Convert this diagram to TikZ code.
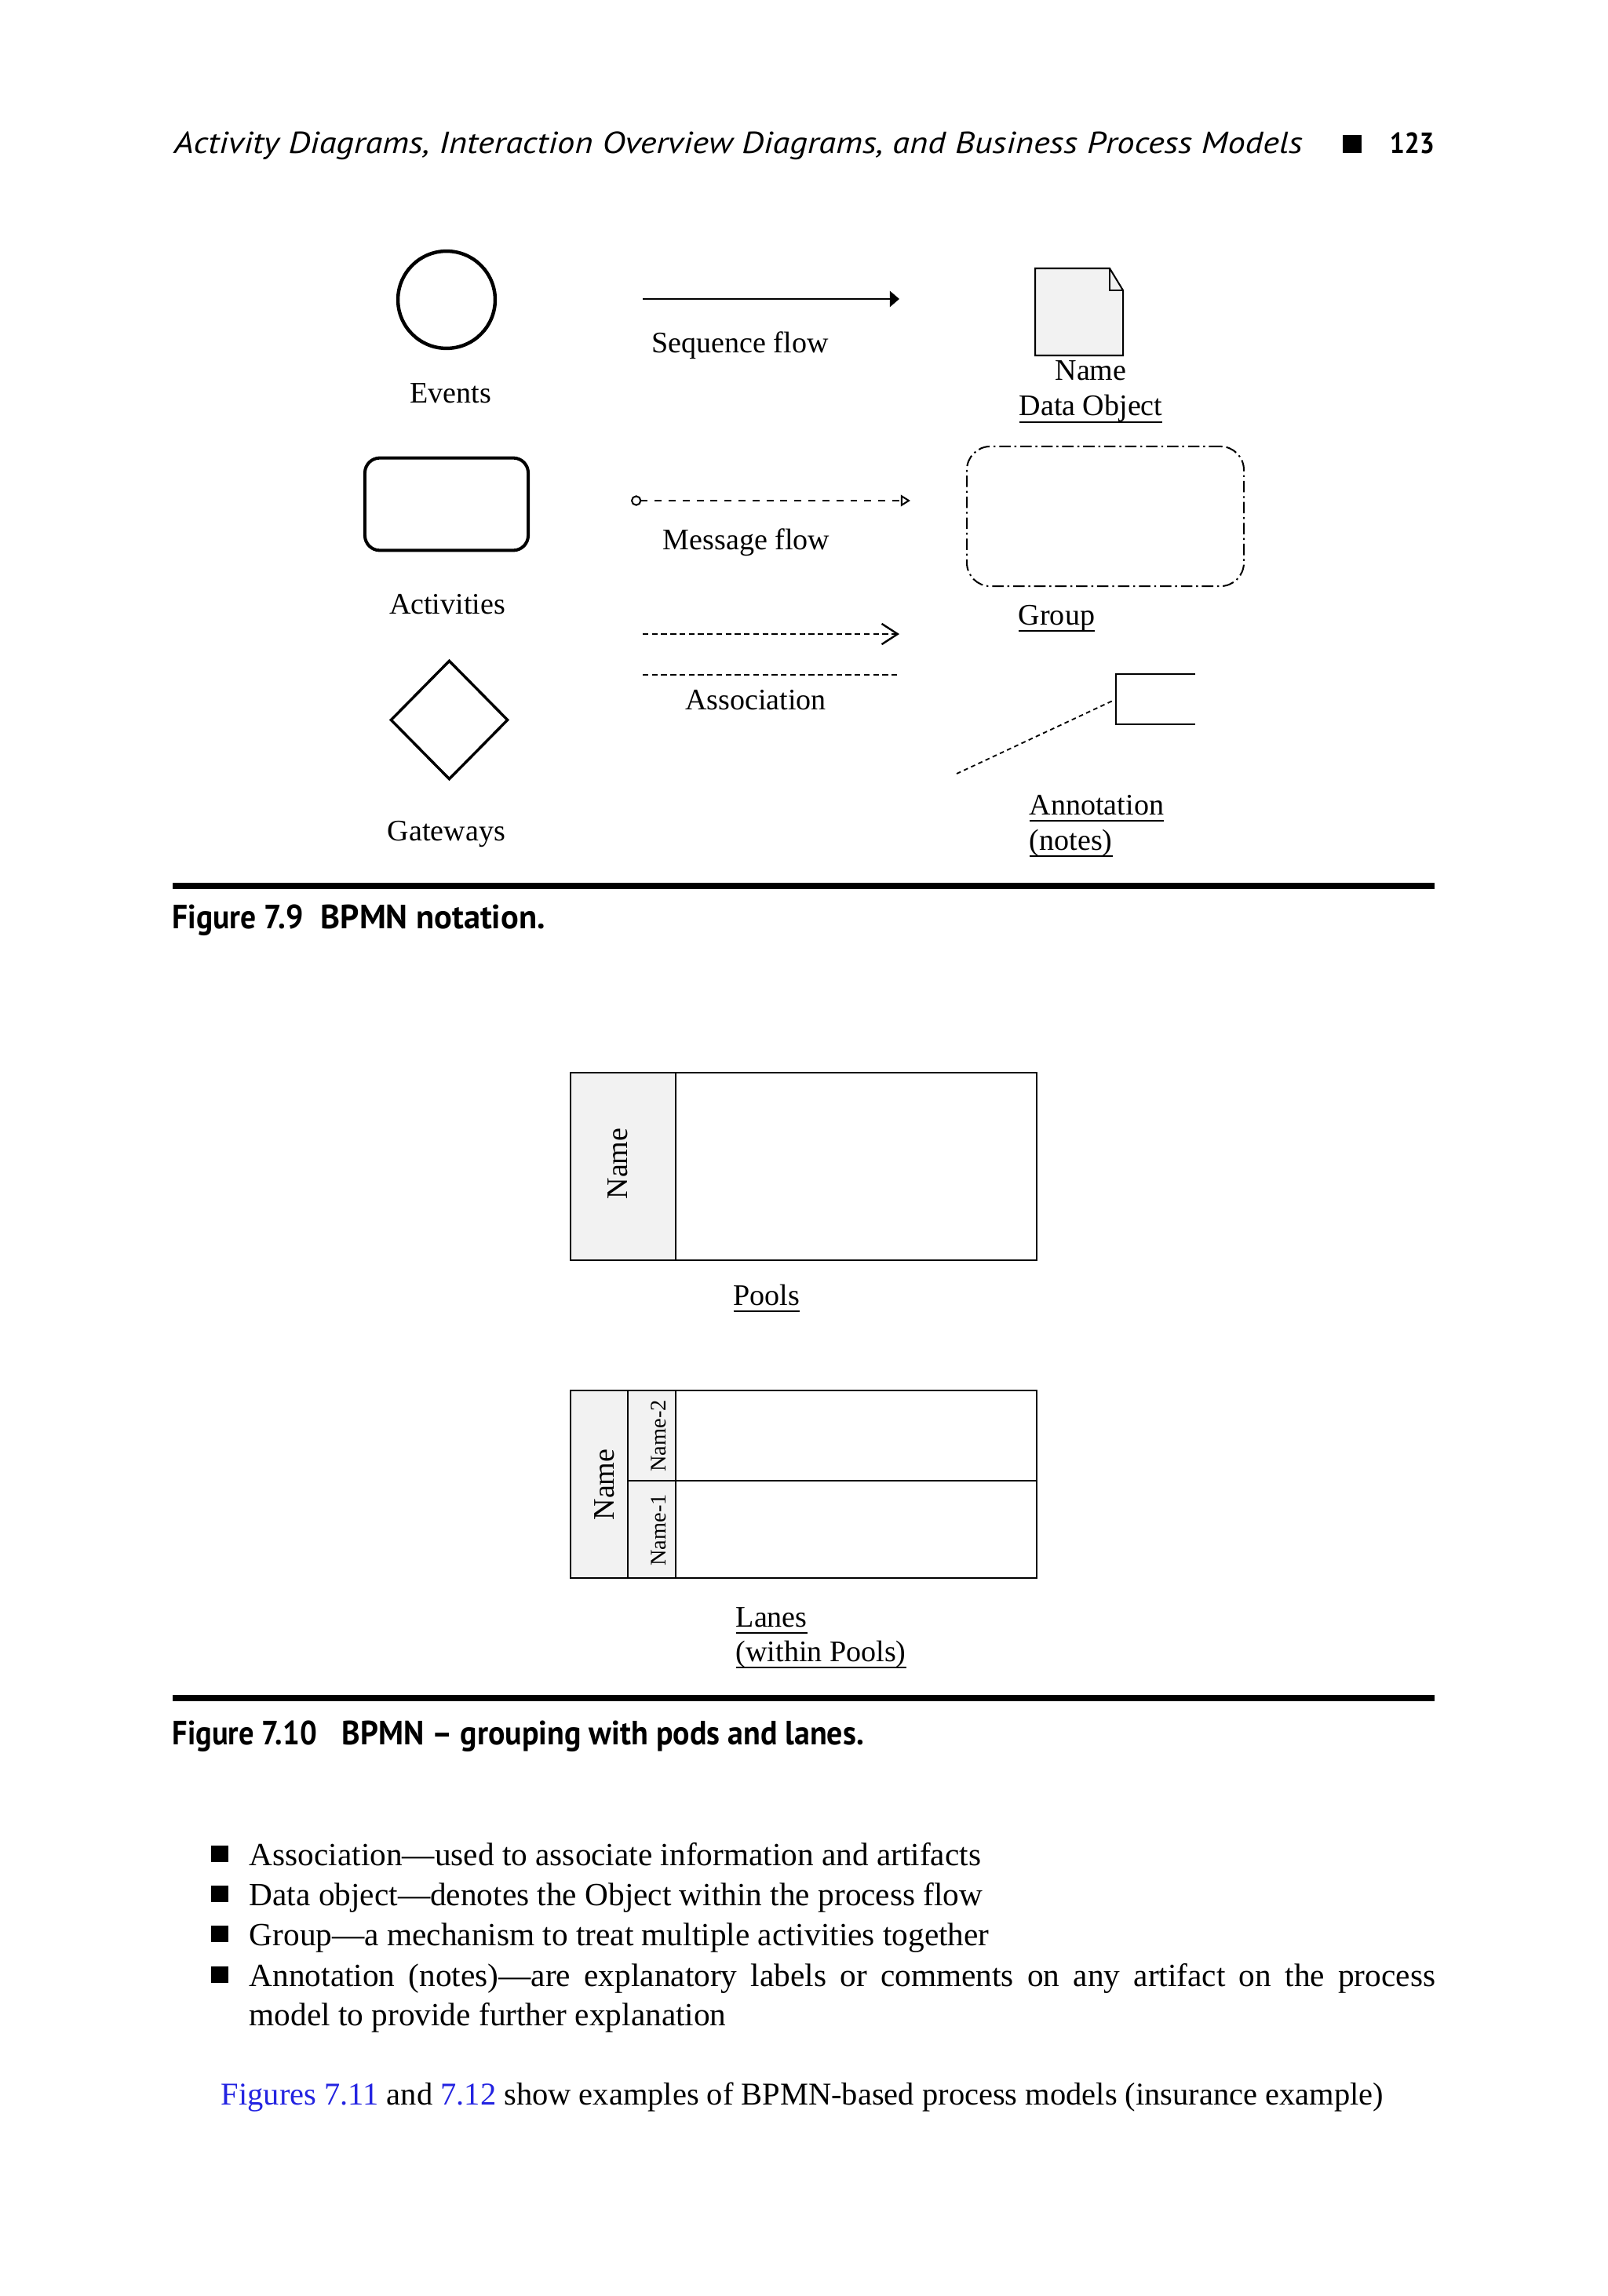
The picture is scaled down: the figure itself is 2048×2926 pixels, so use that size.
\documentclass[tikz,border=0pt]{standalone}
\usepackage{fontspec}
\setmainfont{Liberation Serif}
\setsansfont{PT Sans}
\usepackage{graphicx}
\usetikzlibrary{positioning, arrows.meta, calc, shapes.geometric}

\newlength{\pxl}
\setlength{\pxl}{0.24702pt}
\definecolor{paper}{HTML}{F2F2F2}
\definecolor{xrefblue}{RGB}{35,35,225}
\newcommand{\undl}[1]{\setbox0\hbox{#1}\rlap{\rule[-2.1pt]{\wd0}{0.45pt}}\box0}

\tikzset{
  lbl/.style={inner sep=0pt, anchor=base, font=\fontsize{9.4}{11}\selectfont},
  body/.style={inner sep=0pt, anchor=base west, font=\fontsize{10.2}{12.5}\selectfont},
  capt/.style={inner sep=0pt, anchor=base west, font=\fontsize{10.6}{12}\sffamily\bfseries},
  lanetxt/.style={inner sep=0pt, anchor=center, rotate=90},
}

\begin{document}
\begin{tikzpicture}[x=\pxl, y=-\pxl]
\useasboundingbox (0,0) rectangle (2048,2926);
\fill[white] (0,0) rectangle (2048,2926);

% Running head
\node[capt, font=\fontsize{9.6}{10}\sffamily\itshape] (head) at (221,196) {\resizebox{355.2pt}{\height}{Activity Diagrams, Interaction Overview Diagrams, and Business Process Models}};
\fill (1711,172) rectangle (1735,195);
\node[capt, font=\fontsize{9.2}{10}\sffamily\bfseries] (page) at (1770,196) {\resizebox{14.1pt}{\height}{123}};

% Events, activities, gateways
\node[circle, draw, line width=1.1pt, minimum size=30.6pt, inner sep=0pt] (event) at (569,382) {};
\node[lbl] (eventlbl) at (574,514) {Events};
\node[draw, rounded corners=4.7pt, line width=1pt, minimum width=51.4pt, minimum height=29.1pt, inner sep=0pt] (task) at (569,642.5) {};
\node[lbl] (tasklbl) at (570,782) {Activities};
\node[diamond, draw, line width=0.85pt, minimum width=37pt, minimum height=37.5pt, inner sep=0pt] (gate) at (572.5,917.5) {};
\node[lbl] (gatelbl) at (569,1071) {Gateways};

% Flows
\coordinate (seqA) at (819,381);
\coordinate (seqB) at (1146,381);
\draw[line width=0.5pt, -{Triangle[length=3pt,width=5pt]}] (seqA) -- (seqB);
\node[lbl] (seqlbl) at (943,450) {Sequence flow};

\coordinate (msgA) at (804,638);
\coordinate (msgB) at (1160,638);
\draw[line width=0.5pt, dash pattern=on 2.2pt off 2.2pt, {Circle[open,length=3.3pt,width=3.3pt]}-{Triangle[open,length=3pt,width=3.6pt]}] (msgA) -- (msgB);
\node[lbl] (msglbl) at (951,701) {Message flow};

\coordinate (assA) at (819,808);
\coordinate (assB) at (1146,808);
\draw[line width=0.6pt, dash pattern=on 1.8pt off 1.1pt, -{Straight Barb[length=5pt,width=6.5pt]}] (assA) -- (assB);
\coordinate (linA) at (819,860);
\coordinate (linB) at (1146,860);
\draw[line width=0.6pt, dash pattern=on 1.8pt off 1.1pt] (linA) -- (linB);
\node[lbl] (asslbl) at (963,904) {Association};

% Data object
\draw[line width=0.5pt, fill=paper] (1319,342) -- (1414,342) -- (1431,370) -- (1431,453) -- (1319,453) -- cycle;
\draw[line width=0.5pt] (1414,342) -- (1414,370) -- (1431,370);
\node[lbl] (dataname) at (1390,485) {Name};
\node[lbl] (datalbl) at (1390,530) {\undl{Data Object}};

% Group
\node[draw, line width=0.5pt, dash pattern=on 3.6pt off 1.2pt on 0.6pt off 1.2pt, rounded corners=7.4pt, minimum width=87.2pt, minimum height=44pt, inner sep=0pt] (grp) at (1408.5,658) {};
\node[lbl, anchor=base west] (grplbl) at (1297,796) {\undl{Group}};

% Annotation
\draw[line width=0.6pt] (1523,859) -- (1422,859) -- (1422,923) -- (1523,923);
\coordinate (noteA) at (1219,986);
\coordinate (noteB) at (1420,892);
\draw[line width=0.45pt, dash pattern=on 1.4pt off 1.1pt] (noteA) -- (noteB);
\node[lbl, anchor=base west] (notelbl) at (1311,1038) {\undl{Annotation}};
\node[lbl, anchor=base west] (notelbl2) at (1311,1083) {\undl{(notes)}};

% Figure 7.9 rule and caption
\fill (220,1125) rectangle (1828,1133);
\node[capt] (cap1) at (219,1183) {\resizebox{41.2pt}{\height}{Figure 7.9}};
\node[capt] (cap1b) at (408,1183) {\resizebox{70.6pt}{\height}{BPMN notation.}};

% Pools
\draw[line width=0.6pt, fill=paper] (727,1367) rectangle (861,1606);
\draw[line width=0.6pt] (861,1367) rectangle (1321,1606);
\node[lbl, lanetxt] (poolname) at (787,1483) {Name};
\node[lbl] (poollbl) at (977,1663) {\undl{Pools}};

% Lanes
\draw[line width=0.6pt, fill=paper] (727,1772) rectangle (800,2011);
\draw[line width=0.6pt, fill=paper] (800,1772) rectangle (861,2011);
\draw[line width=0.6pt] (861,1772) rectangle (1321,2011);
\draw[line width=0.6pt] (800,1887) -- (1321,1887);
\node[lbl, lanetxt] (lanepool) at (770,1892) {Name};
\node[lbl, lanetxt, font=\fontsize{7}{8}\selectfont] (lane2) at (839,1830) {Name-2};
\node[lbl, lanetxt, font=\fontsize{7}{8}\selectfont] (lane1) at (839,1950) {Name-1};
\node[lbl, anchor=base west] (lanelbl) at (937,2073) {\undl{Lanes}};
\node[lbl, anchor=base west] (lanelbl2) at (937,2117) {\undl{(within Pools)}};

% Figure 7.10 rule and caption
\fill (220,2160) rectangle (1828,2168);
\node[capt] (cap2) at (219,2223) {\resizebox{45.5pt}{\height}{Figure 7.10}};
\node[capt] (cap2b) at (435,2223) {\resizebox{164.3pt}{\height}{BPMN – grouping with pods and lanes.}};

% Bullet list
\foreach \y in {2377,2428,2479,2531}
  \fill (269,\y-25) rectangle (291,\y-4);
\node[body] (item1) at (317,2377) {Association—used to associate information and artifacts};
\node[body] (item2) at (317,2428) {Data object—denotes the Object within the process flow};
\node[body] (item3) at (317,2479) {Group—a mechanism to treat multiple activities together};
\node[body] (item4) at (317,2531) {\makebox[373.3pt][s]{Annotation (notes)—are explanatory labels or comments on any artifact on the process}};
\node[body] (item5) at (317,2581) {model to provide further explanation};
\node[body, font=\fontsize{10}{12.5}\selectfont] (para) at (281,2682) {\textcolor{xrefblue}{Figures 7.11} and \textcolor{xrefblue}{7.12} show examples of BPMN-based process models (insurance example)};

\end{tikzpicture}
\end{document}
